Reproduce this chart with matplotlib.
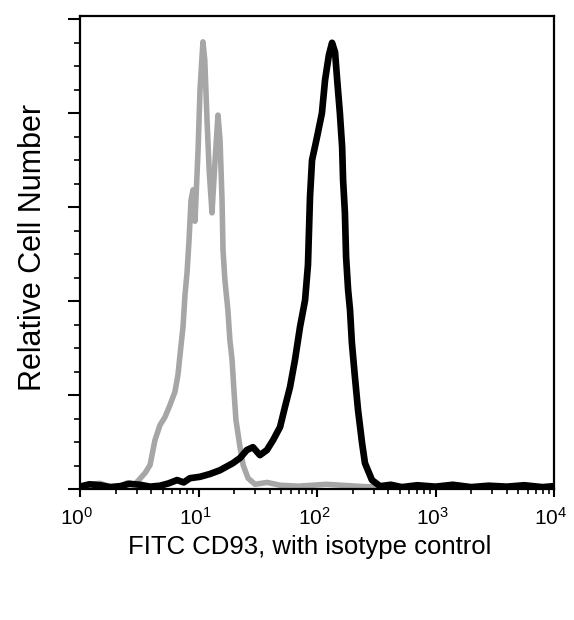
import numpy as np
import matplotlib
matplotlib.use("Agg")
import matplotlib.pyplot as plt
from matplotlib.ticker import LogLocator, MultipleLocator, NullFormatter
from matplotlib.transforms import ScaledTranslation

plt.rcParams['font.family'] = ['Liberation Sans', 'DejaVu Sans']
plt.rcParams['mathtext.fontset'] = 'custom'
plt.rcParams['mathtext.rm'] = 'Liberation Sans'

# CD93 stained cells (black)
cd93_x = [1.0, 1.2, 1.48, 1.8, 2.18, 2.6, 3.21, 3.9, 4.73, 5.6, 6.59, 7.5, 8.47, 10.3, 12.5,
          15.2, 19.5, 22.4, 25.6, 28.8, 33.0, 37.8, 42.6, 48.8, 53.7, 59.2, 65.2,
          71.9, 79.3, 83.9, 87.3, 90.8, 100, 110, 117, 126, 134, 142, 148, 156,
          163, 166, 172, 176, 183, 190, 197, 209, 222, 240, 254, 291, 340,
          420, 520, 700, 1000, 1400, 2000, 2800, 4000, 5600, 8000, 10000]
cd93_y = [0.5, 1.0, 0.8, 0.4, 0.6, 1.1, 0.9, 0.5, 0.7, 1.2, 1.9, 1.4, 2.3, 2.6, 3.2,
          4.0, 5.5, 6.6, 8.3, 8.9, 7.2, 8.3, 10.4, 13.2, 17.5, 21.7, 27.5,
          34.5, 40.2, 47.7, 62.2, 70.0, 74.9, 80.0, 87.1, 92.4, 95.0, 93.0, 87.1, 80.0,
          72.8, 65.8, 58.8, 49.4, 42.4, 38.1, 31.1, 23.8, 16.8, 9.8, 5.5, 1.9, 0.6,
          0.9, 0.4, 0.8, 0.5, 0.9, 0.4, 0.7, 0.5, 0.8, 0.4, 0.6]

# Isotype control (grey)
iso_x = [1.0, 1.2, 1.48, 1.8, 2.18, 2.5, 2.91, 3.54, 3.90, 4.29, 4.73, 5.21, 5.75, 6.33,
         6.71, 6.98, 7.40, 7.69, 8.00, 8.32, 8.65, 8.99, 9.34, 9.91, 10.3, 10.9,
         11.3, 11.8, 12.3, 13.0, 13.8, 14.6, 15.2, 15.8, 16.1, 16.7, 17.7, 18.4,
         19.2, 19.9, 20.7, 22.4, 23.8, 26.2, 30.0, 38.0, 48.8, 70, 120, 250, 500,
         1000, 2000, 5000, 10000]
iso_y = [0.6, 1.0, 1.2, 0.5, 0.5, 1.3, 1.0, 3.4, 5.1, 10.4, 13.6, 15.3, 17.9, 20.7,
         24.3, 28.5, 34.5, 41.3, 46.0, 53.0, 61.5, 63.7, 57.0, 72.0, 85.0, 95.2,
         91.3, 78.6, 67.9, 58.8, 70.0, 79.6, 74.3, 61.5, 50.9, 44.5, 38.1, 31.7,
         27.5, 21.1, 14.7, 8.9, 5.1, 2.3, 1.0, 1.4, 0.8, 0.6, 1.0, 0.5, 0.4,
         0.5, 0.3, 0.5, 0.4]

fig = plt.figure(figsize=(5.74, 6.2), dpi=100)
ax = fig.add_axes([80/574, 1-489/620, 474/574, 473/620])

ax.plot(iso_x, iso_y, color='#a6a6a6', lw=4.0, solid_joinstyle='round')
ax.plot(cd93_x, cd93_y, color='black', lw=4.8, solid_joinstyle='round')

ax.set_xscale('log')
ax.set_xlim(1, 10000)
ax.set_ylim(0, 100.7)

ax.xaxis.set_major_locator(LogLocator(base=10, numticks=10))
ax.xaxis.set_minor_locator(LogLocator(base=10, subs=np.arange(2, 10), numticks=50))
ax.xaxis.set_minor_formatter(NullFormatter())
ax.yaxis.set_major_locator(MultipleLocator(20))
ax.yaxis.set_minor_locator(MultipleLocator(5))
ax.set_yticklabels([])

ax.tick_params(axis='x', which='major', direction='out', length=6, width=1.5,
               labelsize=15, pad=7, top=False)
ax.tick_params(axis='x', which='minor', direction='out', length=3.5, width=1.2, top=False)
ax.tick_params(axis='y', which='major', direction='out', length=9, width=1.5, right=False)
ax.tick_params(axis='y', which='minor', direction='out', length=4.5, width=1.2, right=False)

shift = ScaledTranslation(-3/100, 0, fig.dpi_scale_trans)
for lbl in ax.get_xticklabels():
    lbl.set_transform(lbl.get_transform() + shift)

for s in ax.spines.values():
    s.set_linewidth(1.6)

ax.set_xlabel('FITC CD93, with isotype control', fontsize=18.5)
ax.xaxis.set_label_coords((310 - 80) / 474, -0.098)
ax.set_ylabel('Relative Cell Number', fontsize=22)
ax.yaxis.set_label_coords(-0.068, 0.51)

fig.savefig('out.png', dpi=100)
